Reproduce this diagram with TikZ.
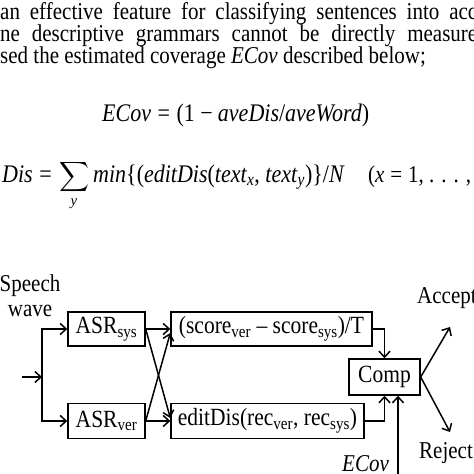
\documentclass[tikz,border=0pt]{standalone}
\usepackage{amsmath}
\usepackage{graphicx}
\usepackage{fontspec}
\setmainfont{Liberation Serif}
\usetikzlibrary{arrows.meta,calc}
\newcommand{\vst}[1]{\scalebox{1}[1.15]{#1}}
\begin{document}
\begin{tikzpicture}[x=1pt,y=-1pt,
  box/.style={draw,line width=1.4pt,inner sep=0pt,font=\fontsize{21.5}{22}\selectfont},
  arr/.style={line width=1.5pt,-{Straight Barb[length=6pt,width=11pt,line width=1.5pt]}},
  txt/.style={inner sep=0pt,anchor=base west,font=\fontsize{21}{23}\selectfont},
  fml/.style={inner sep=0pt,anchor=base west,font=\fontsize{22}{24}\selectfont},
  lbl/.style={inner sep=0pt,anchor=base,font=\fontsize{21}{23}\selectfont}]
\useasboundingbox (0,0) rectangle (474,474);
\clip (0,0) rectangle (474,474);
% paragraph
\node[txt] (l1) at (0,19) {\vst{\makebox[477pt][s]{an effective feature for classifying sentences into acc}}};
\node[txt] (l2) at (0,41) {\vst{\makebox[477pt][s]{ne descriptive grammars cannot be directly measure}}};
\node[txt] (l3) at (0,63) {\vst{sed the estimated coverage \textit{ECov} described below;}};
% formula 1
\node[fml] (f1) at (102,121) {\vst{\textit{ECov}\hspace{0.3em}=\hspace{0.3em}(1\hspace{0.24em}−\hspace{0.24em}\textit{aveDis}/\textit{aveWord})}};
% formula 2
\node[fml] (f2a) at (2,182) {\vst{\textit{Dis}\hspace{0.3em}=}};
\node[inner sep=0pt,anchor=base] (sum) at (74,182) {\fontsize{21}{23}\selectfont$\displaystyle\sum_{\textit{y}}$};
\node[fml] (f2b) at (93,182) {\vst{\textit{min}\{(\textit{editDis}(\textit{text}\textsubscript{\textit{x}}, \textit{text}\textsubscript{\textit{y}})\}/\textit{N}}};
\node[txt] (f2c) at (368,182) {\vst{(\textit{x}\hspace{0.28em}=\hspace{0.28em}1, . . . ,}};
% diagram
\node[lbl] (speech) at (30,291) {\vst{Speech}};
\node[lbl] (wave) at (30,316) {\vst{wave}};
\node[box,minimum width=77pt,minimum height=34pt] (asrs) at (106.5,329) {\vst{ASR\textsubscript{sys}}};
\node[box,minimum width=77pt,minimum height=35pt] (asrv) at (106.5,421) {\vst{ASR\textsubscript{ver}}};
\node[box,minimum width=201pt,minimum height=34pt] (score) at (271.5,329) {\vst{(score\textsubscript{ver} – score\textsubscript{sys})/T}};
\node[box,minimum width=193pt,minimum height=35pt] (edit) at (267.5,421) {\vst{editDis(rec\textsubscript{ver}, rec\textsubscript{sys})}};
\node[box,minimum width=71pt,minimum height=36pt] (comp) at (384.5,377) {\vst{Comp}};
\coordinate (in) at (22,377);
\coordinate (j) at (42,377);
\coordinate (ecb) at (398,474);
\coordinate (acc) at (450,327);
\coordinate (rej) at (450,432);
\draw[arr] (in) -- (j);
\draw[arr] (j) |- (asrs.west);
\draw[arr] (j) |- (asrv.west);
\draw[arr] (asrs.east) -- (score.west);
\draw[arr] (asrv.east) -- (edit.west);
\draw[arr] (asrs.east) -- ($(edit.west)+(0,-3)$);
\draw[arr] (asrv.east) -- ($(score.west)+(0,4)$);
\draw[arr] (score.east) -| (comp.north);
\draw[arr] (edit.east) -| (comp.south);
\draw[arr] (ecb) -- (ecb |- comp.south);
\draw[arr] (comp.east) -- (acc);
\draw[arr] (comp.east) -- (rej);
\node[txt] (accept) at (417,303) {\vst{Accept}};
\node[txt] (reject) at (419,458) {\vst{Reject}};
\node[txt] (ecov) at (342,471) {\vst{\textit{ECov}}};
\end{tikzpicture}
\end{document}
